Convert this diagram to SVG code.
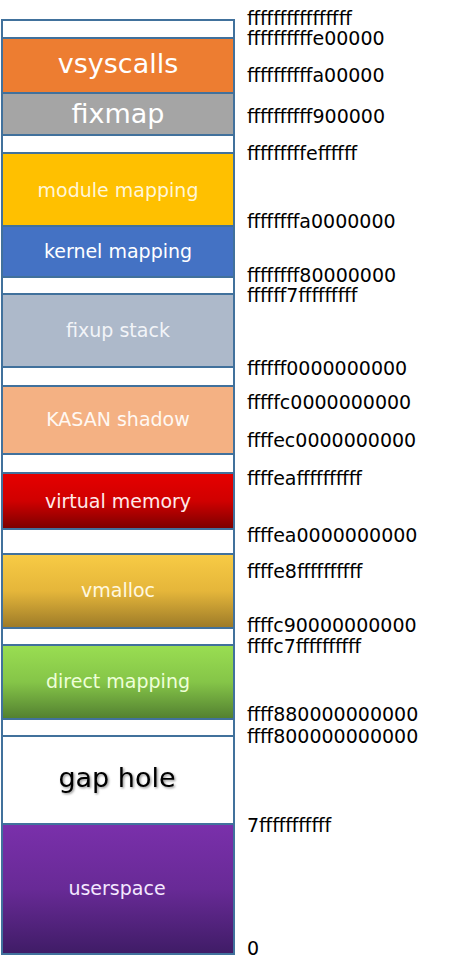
<svg xmlns="http://www.w3.org/2000/svg" width="474" height="968" viewBox="0 0 474 968">
<style>
.b{stroke:#41719c;stroke-width:2}
.w{fill:#ffffff}
.t{font-family:"DejaVu Sans",Verdana,sans-serif;text-anchor:middle;fill:#ffffff}
.s19{font-size:19px}
.s27{font-size:27px}
.a{font-family:"DejaVu Sans",Verdana,sans-serif;font-size:19px;fill:#000000}
</style>
<defs>
<linearGradient id="gRed" x1="0" y1="0" x2="0" y2="1"><stop offset="0" stop-color="#e60000"/><stop offset="0.5" stop-color="#d00000"/><stop offset="1" stop-color="#7a0000"/></linearGradient>
<linearGradient id="gYel" x1="0" y1="0" x2="0" y2="1"><stop offset="0" stop-color="#f8cb45"/><stop offset="0.5" stop-color="#e5b63a"/><stop offset="1" stop-color="#9c7a28"/></linearGradient>
<linearGradient id="gGrn" x1="0" y1="0" x2="0" y2="1"><stop offset="0" stop-color="#9ade52"/><stop offset="0.5" stop-color="#85c548"/><stop offset="1" stop-color="#527f30"/></linearGradient>
<linearGradient id="gPur" x1="0" y1="0" x2="0" y2="1"><stop offset="0" stop-color="#7a30ab"/><stop offset="0.5" stop-color="#682a96"/><stop offset="1" stop-color="#3f1c66"/></linearGradient>
<filter id="sh" x="-10%" y="-20%" width="130%" height="150%"><feDropShadow dx="1.2" dy="1.2" stdDeviation="0.8" flood-color="#000" flood-opacity="0.45"/></filter>
</defs>
<rect width="474" height="968" fill="#ffffff"/>
<g id="hole1"><rect class="b w" x="2" y="20" width="232" height="18"/></g>
<g id="vsyscalls"><rect class="b" x="2" y="38" width="232" height="55" fill="#ed7d31"/><text class="t s27" x="118" y="73">vsyscalls</text></g>
<g id="fixmap"><rect class="b" x="2" y="93" width="232" height="42" fill="#a5a5a5"/><text class="t s27" x="118" y="123">fixmap</text></g>
<g id="hole2"><rect class="b w" x="2" y="135" width="232" height="18"/></g>
<g id="module-mapping"><rect class="b" x="2" y="153" width="232" height="73" fill="#ffc000"/><text class="t s19" x="118" y="197" style="fill:#fff6d8">module mapping</text></g>
<g id="kernel-mapping"><rect class="b" x="2" y="226" width="232" height="51" fill="#4472c4"/><text class="t s19" x="118" y="258">kernel mapping</text></g>
<g id="hole3"><rect class="b w" x="2" y="277" width="232" height="17"/></g>
<g id="fixup-stack"><rect class="b" x="2" y="294" width="232" height="73" fill="#adb9ca"/><text class="t s19" x="118" y="337" style="fill:#f2f4f8">fixup stack</text></g>
<g id="hole4"><rect class="b w" x="2" y="367" width="232" height="19"/></g>
<g id="kasan-shadow"><rect class="b" x="2" y="386" width="232" height="68" fill="#f4b183"/><text class="t s19" x="118" y="426" style="fill:#fff8f2">KASAN shadow</text></g>
<g id="hole5"><rect class="b w" x="2" y="454" width="232" height="19"/></g>
<g id="virtual-memory"><rect class="b" x="2" y="473" width="232" height="56" fill="url(#gRed)"/><text class="t s19" x="118" y="508" style="fill:#ffeaea">virtual memory</text></g>
<g id="hole6"><rect class="b w" x="2" y="529" width="232" height="25"/></g>
<g id="vmalloc"><rect class="b" x="2" y="554" width="232" height="74" fill="url(#gYel)"/><text class="t s19" x="118" y="597" style="fill:#fff8e0">vmalloc</text></g>
<g id="hole7"><rect class="b w" x="2" y="628" width="232" height="17"/></g>
<g id="direct-mapping"><rect class="b" x="2" y="645" width="232" height="74" fill="url(#gGrn)"/><text class="t s19" x="118" y="688" style="fill:#eeffd8">direct mapping</text></g>
<g id="hole8"><rect class="b w" x="2" y="719" width="232" height="17"/></g>
<g id="gap-hole"><rect class="b w" x="2" y="736" width="232" height="88"/><text class="t s27" x="117" y="787" style="fill:#000000" filter="url(#sh)">gap hole</text></g>
<g id="userspace"><rect class="b" x="2" y="824" width="232" height="130" fill="url(#gPur)"/><text class="t s19" x="117" y="895" style="fill:#f4e8ff">userspace</text></g>
<g id="connectors"></g>
<g id="addresses">
<text class="a" x="247" y="25">ffffffffffffffff</text>
<text class="a" x="247" y="45">ffffffffffe00000</text>
<text class="a" x="247" y="82">ffffffffffa00000</text>
<text class="a" x="247" y="123">ffffffffff900000</text>
<text class="a" x="247" y="160">fffffffffeffffff</text>
<text class="a" x="247" y="228">ffffffffa0000000</text>
<text class="a" x="247" y="282">ffffffff80000000</text>
<text class="a" x="247" y="302">ffffff7fffffffff</text>
<text class="a" x="247" y="375">ffffff0000000000</text>
<text class="a" x="247" y="409">fffffc0000000000</text>
<text class="a" x="247" y="447">ffffec0000000000</text>
<text class="a" x="247" y="485">ffffeaffffffffff</text>
<text class="a" x="247" y="542">ffffea0000000000</text>
<text class="a" x="247" y="578">ffffe8ffffffffff</text>
<text class="a" x="247" y="632">ffffc90000000000</text>
<text class="a" x="247" y="653">ffffc7ffffffffff</text>
<text class="a" x="247" y="721">ffff880000000000</text>
<text class="a" x="247" y="743">ffff800000000000</text>
<text class="a" x="247" y="832">7fffffffffff</text>
<text class="a" x="247" y="955">0</text>
</g>
</svg>
